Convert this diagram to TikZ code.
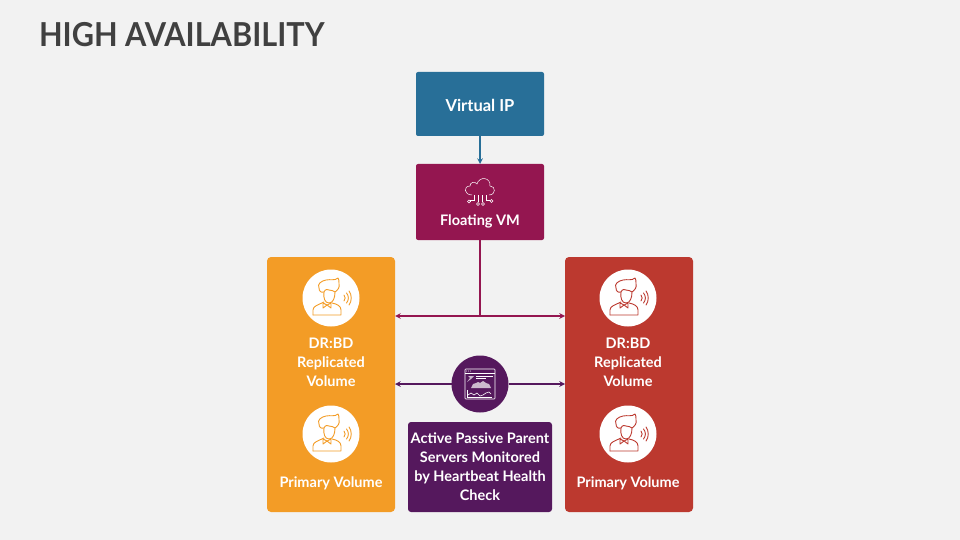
\documentclass[tikz,border=0pt]{standalone}
\usepackage{fontspec}
\setmainfont{Lato}
\newfontfamily\titlefont[FakeStretch=0.93]{Lato}
\usepackage{tikz}
\usetikzlibrary{positioning, arrows}

\definecolor{pagegrey}{HTML}{F2F2F2}
\definecolor{titlegrey}{HTML}{404040}
\definecolor{vipblue}{HTML}{286F98}
\definecolor{vmred}{HTML}{941650}
\definecolor{leftorange}{HTML}{F39C26}
\definecolor{rightred}{HTML}{BC392F}
\definecolor{heartpurple}{HTML}{55185D}

\tikzset{
    pics/talker/.style={code={
        % shoulders, head, hair, bow tie and sound waves
        \begin{scope}[draw=#1, line width=0.9pt, line join=round, line cap=round]
        \draw (-18,17) -- (10,17) -- (10,12) .. controls (10,8) and (6,6) .. (1,5);
        \draw (-18,17) -- (-18,12) .. controls (-18,8) and (-13,7) .. (-7,4);
        \draw (-7,-6) .. controls (-8,0) and (-6,5) .. (-2,5) .. controls (2,5) and (4,0) .. (4,-6);
        \draw (-7,-6) .. controls (-6,-9) and (-3,-9) .. (-2,-8) .. controls (0,-7) and (3,-8) .. (4,-6)
            .. controls (7,-8) and (9,-11) .. (8,-14) .. controls (8,-17) and (8,-19) .. (7,-20)
            .. controls (4,-17) and (-1,-19) .. (-5,-18) .. controls (-10,-17) and (-14,-14) .. (-12,-10)
            .. controls (-12,-7) and (-10,-5) .. (-7,-6);
        \draw (-4,7) -- (-8,5) -- (-8,10) -- cycle (-4,7) -- (0,5) -- (0,10) -- cycle;
        \draw (13,-3) .. controls (14.5,-1) and (14.5,1) .. (13,3);
        \draw (15.5,-5) .. controls (18,-2) and (18,2) .. (15.5,5);
        \draw (18,-7) .. controls (21,-3) and (21,3) .. (18,7);
        \end{scope}
    }},
    pics/cloudchip/.style={code={
        % cloud outline with circuit legs
        \begin{scope}[draw=white, line width=0.5pt]
        \draw (-8,5) .. controls (-16,5) and (-17,-4) .. (-10,-4) .. controls (-10,-8) and (-5,-9) .. (-3,-6)
            .. controls (-1,-14) and (11,-13) .. (10,-4) .. controls (16,-4) and (16,5) .. (9,5);
        \draw (-10,12) -- (-10,10) -- (-6,10) -- (-6,5) (-2,12) -- (-2,5) (2,12) -- (2,5) (6,5) -- (6,10) -- (10,10);
        \draw (-11,11.5) circle (1.5) (-2,14) circle (1.5) (3,14) circle (1.5) (11.5,11) circle (1.5);
        \end{scope}
    }},
    pics/dashboard/.style={code={
        % monitoring window with charts
        \begin{scope}[draw=white, line width=0.6pt]
        \draw[rounded corners=0.8pt] (-15,-15) rectangle (15,15);
        \draw (-15,-11) -- (15,-11);
        \fill[white] (-13.5,-13) circle (0.5) (-11.5,-13) circle (0.5) (-9.5,-13) circle (0.5);
        \draw (-4,-7.5) -- (13,-7.5) (-4,-5.5) -- (6,-5.5);
        \fill[white!70!heartpurple] (-12,-8) -- (-6,-8) -- (-9,-5) -- (-13,-2) -- (-10,-6) -- cycle;
        \fill[white!70!heartpurple] (-9,4) -- (-7,0) -- (-4,-1) -- (-2,-2) -- (0,-1) -- (3,-3) -- (6,-1) -- (9,0) -- (11,4) -- cycle;
        \draw (-13,6) -- (-13,13) -- (12,13);
        \draw (-12,11) -- (-9,9) -- (-6,11) -- (-3,9) -- (0,12) -- (3,11) -- (6,9) -- (9,8) -- (11,10);
        \end{scope}
    }}
}

\begin{document}
\begin{tikzpicture}[
            x=1pt, y=-1pt,
            every node/.style={inner sep=0pt, outer sep=0pt, font=\fontsize{14.5}{19}\selectfont\bfseries, text=white, align=center},
            smallbox/.style={rounded corners=2pt, minimum width=128pt},
            tallbox/.style={rounded corners=4pt, minimum width=128pt, minimum height=255pt},
            iconball/.style={circle, fill=white, minimum size=57pt},
            link/.style={line width=1.5pt, stealth-stealth}
            ]

    \useasboundingbox (0,0) rectangle (960,540);
    \fill[pagegrey] (0,0) rectangle (960,540);

    \node[font=\fontsize{33}{38}\titlefont\bfseries, text=titlegrey, anchor=west] (title) at (39,35) {HIGH AVAILABILITY};

    % top boxes
    \node[smallbox, fill=vipblue, minimum height=64pt] (vip) at (480,104) {};
    \node[font=\fontsize{16.5}{19}\selectfont\bfseries] (viptext) at (480,105) {Virtual IP};
    \node[smallbox, fill=vmred, minimum height=76pt, below=28pt of vip] (floatvm) {};
    \node (floatvmtext) at (480,221.5) {Floating VM};
    \pic at (480,190) {cloudchip};

    % side boxes
    \node[tallbox, fill=leftorange] (leftbox) at (331,384.5) {};
    \node[tallbox, fill=rightred] (rightbox) at (629,384.5) {};

    \node[iconball] (lefttop) at (331,298) {};
    \node[iconball] (leftlow) at (331,434) {};
    \node[iconball] (righttop) at (628,298) {};
    \node[iconball] (rightlow) at (628,434) {};
    \pic at (lefttop) {talker=leftorange};
    \pic at (leftlow) {talker=leftorange};
    \pic at (righttop) {talker=rightred};
    \pic at (rightlow) {talker=rightred};

    \node (lefttext) at (331,362) {DR:BD\\Replicated\\Volume};
    \node (righttext) at (628,362) {DR:BD\\Replicated\\Volume};
    \node (leftprimary) at (331,483.5) {Primary Volume};
    \node (rightprimary) at (628,483.5) {Primary Volume};

    % heartbeat in the middle
    \node[circle, fill=heartpurple, minimum size=57pt] (heart) at (480,384) {};
    \pic at (heart) {dashboard};
    \node[rounded corners=3pt, fill=heartpurple, minimum width=144pt, minimum height=90pt] (heartbox) at (480,467) {Active Passive Parent\\Servers Monitored\\by Heartbeat Health\\Check};

    % connectors
    \coordinate (split) at (floatvm.south |- 0,316);
    \draw[vipblue, line width=1.5pt, -stealth] (vip) -- (floatvm);
    \draw[vmred, line width=1.5pt] (floatvm) -- (split);
    \draw[vmred, link] (leftbox.east |- split) -- (rightbox.west |- split);
    \draw[heartpurple, link, -stealth] (heart) -- (leftbox.east |- heart);
    \draw[heartpurple, link, -stealth] (heart) -- (rightbox.west |- heart);

\end{tikzpicture}
\end{document}
